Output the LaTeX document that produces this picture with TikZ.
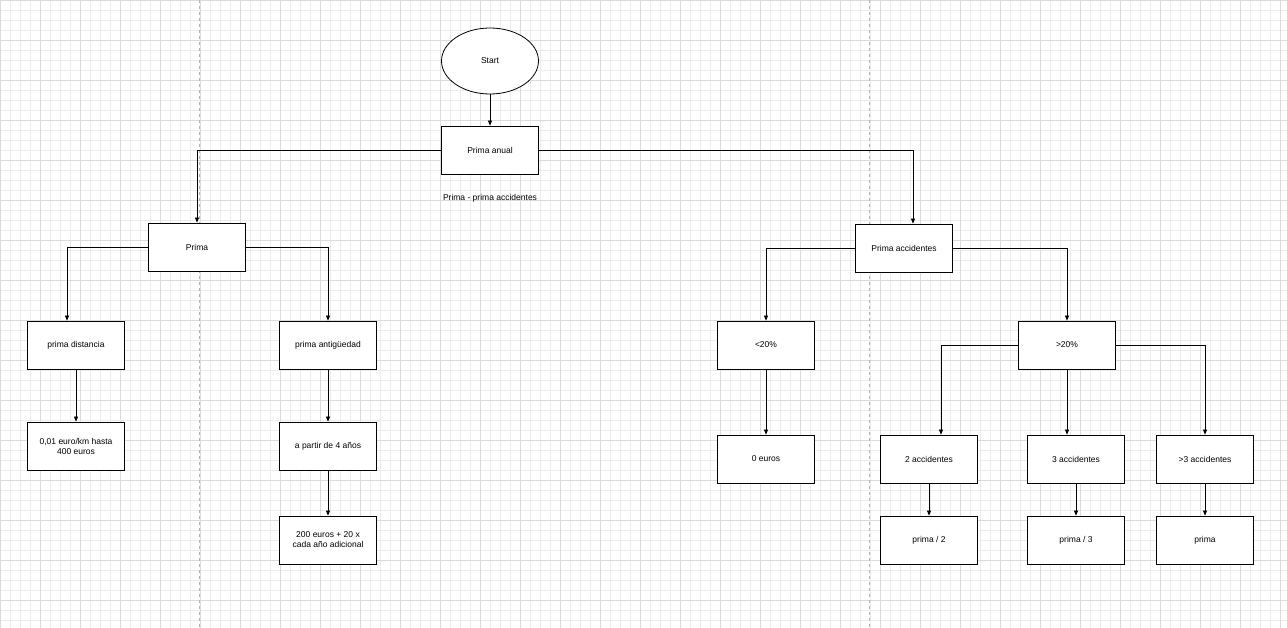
\documentclass[tikz,border=0pt]{standalone}
\usepackage{fontspec}
\setmainfont{Liberation Sans}
\usetikzlibrary{arrows.meta,shapes.geometric}
\begin{document}
\begin{tikzpicture}[x=1pt,y=-1pt,
  box/.style={draw,line width=0.8pt,fill=white,minimum width=97pt,minimum height=48pt,align=center,font=\fontsize{8.5}{10}\selectfont,inner sep=1pt},
  lbl/.style={font=\fontsize{8.5}{10}\selectfont},
  arr/.style={-{Triangle[length=5pt,width=4pt]},line width=0.7pt}]
\useasboundingbox (0,0) rectangle (1287,628);
\fill[white] (0,0) rectangle (1287,628);
\foreach \i in {0,10,...,1280} \draw[black!8,line width=0.3pt] (\i,0) -- (\i,628);
\foreach \j in {0,10,...,620} \draw[black!8,line width=0.3pt] (0,\j) -- (1287,\j);
\foreach \i in {0,40,...,1280} \draw[black!14,line width=0.4pt] (\i,0) -- (\i,628);
\foreach \j in {0,40,...,620} \draw[black!14,line width=0.4pt] (0,\j) -- (1287,\j);
\draw[black!30,dashed,line width=0.5pt] (199,0) -- (199,628);
\draw[black!30,dashed,line width=0.5pt] (869,0) -- (869,628);

\node[draw,ellipse,line width=0.8pt,fill=white,minimum width=97pt,minimum height=66pt,font=\fontsize{8.5}{10}\selectfont] (start) at (490,61) {Start};
\node[box] (anual) at (490,150) {Prima anual};
\node[lbl] (resta) at (490,198) {Prima - prima accidentes};
\node[box] (prima) at (197,247) {Prima};
\node[box] (pacc) at (904,248) {Prima accidentes};
\node[box] (dist) at (76,345) {prima distancia};
\node[box] (ant) at (328,345) {prima antigüedad};
\node[box] (km) at (76,446) {0,01 euro/km hasta\\400 euros};
\node[box] (cuatro) at (328,446) {a partir de 4 años};
\node[box] (dosc) at (328,540) {200 euros + 20 x\\cada año adicional};
\node[box] (menos) at (766,345) {<20\%};
\node[box] (mas) at (1067,345) {>20\%};
\node[box] (cero) at (766,459) {0 euros};
\node[box] (a2) at (929,459) {2 accidentes};
\node[box] (a3) at (1076,459) {3 accidentes};
\node[box] (a4) at (1205,459) {>3 accidentes};
\node[box] (p2) at (929,540) {prima / 2};
\node[box] (p3) at (1076,540) {prima / 3};
\node[box] (p4) at (1205,540) {prima};

\draw[arr] (start) -- (anual);
\draw[arr] (anual.west) -| (prima.north);
\draw[arr] (anual.east) -| (pacc.north -| 913,0);
\draw[arr] (prima.west) -| (dist.north -| 67,0);
\draw[arr] (prima.east) -| (ant.north);
\draw[arr] (dist) -- (km);
\draw[arr] (ant) -- (cuatro);
\draw[arr] (cuatro) -- (dosc);
\draw[arr] (pacc.west) -| (menos.north);
\draw[arr] (pacc.east) -| (mas.north);
\draw[arr] (menos) -- (cero);
\draw[arr] (mas.west) -| (a2.north -| 941,0);
\draw[arr] (mas.south) -- (a3.north -| 1067,0);
\draw[arr] (mas.east) -| (a4.north);
\draw[arr] (a2) -- (p2);
\draw[arr] (a3) -- (p3);
\draw[arr] (a4) -- (p4);
\end{tikzpicture}
\end{document}
